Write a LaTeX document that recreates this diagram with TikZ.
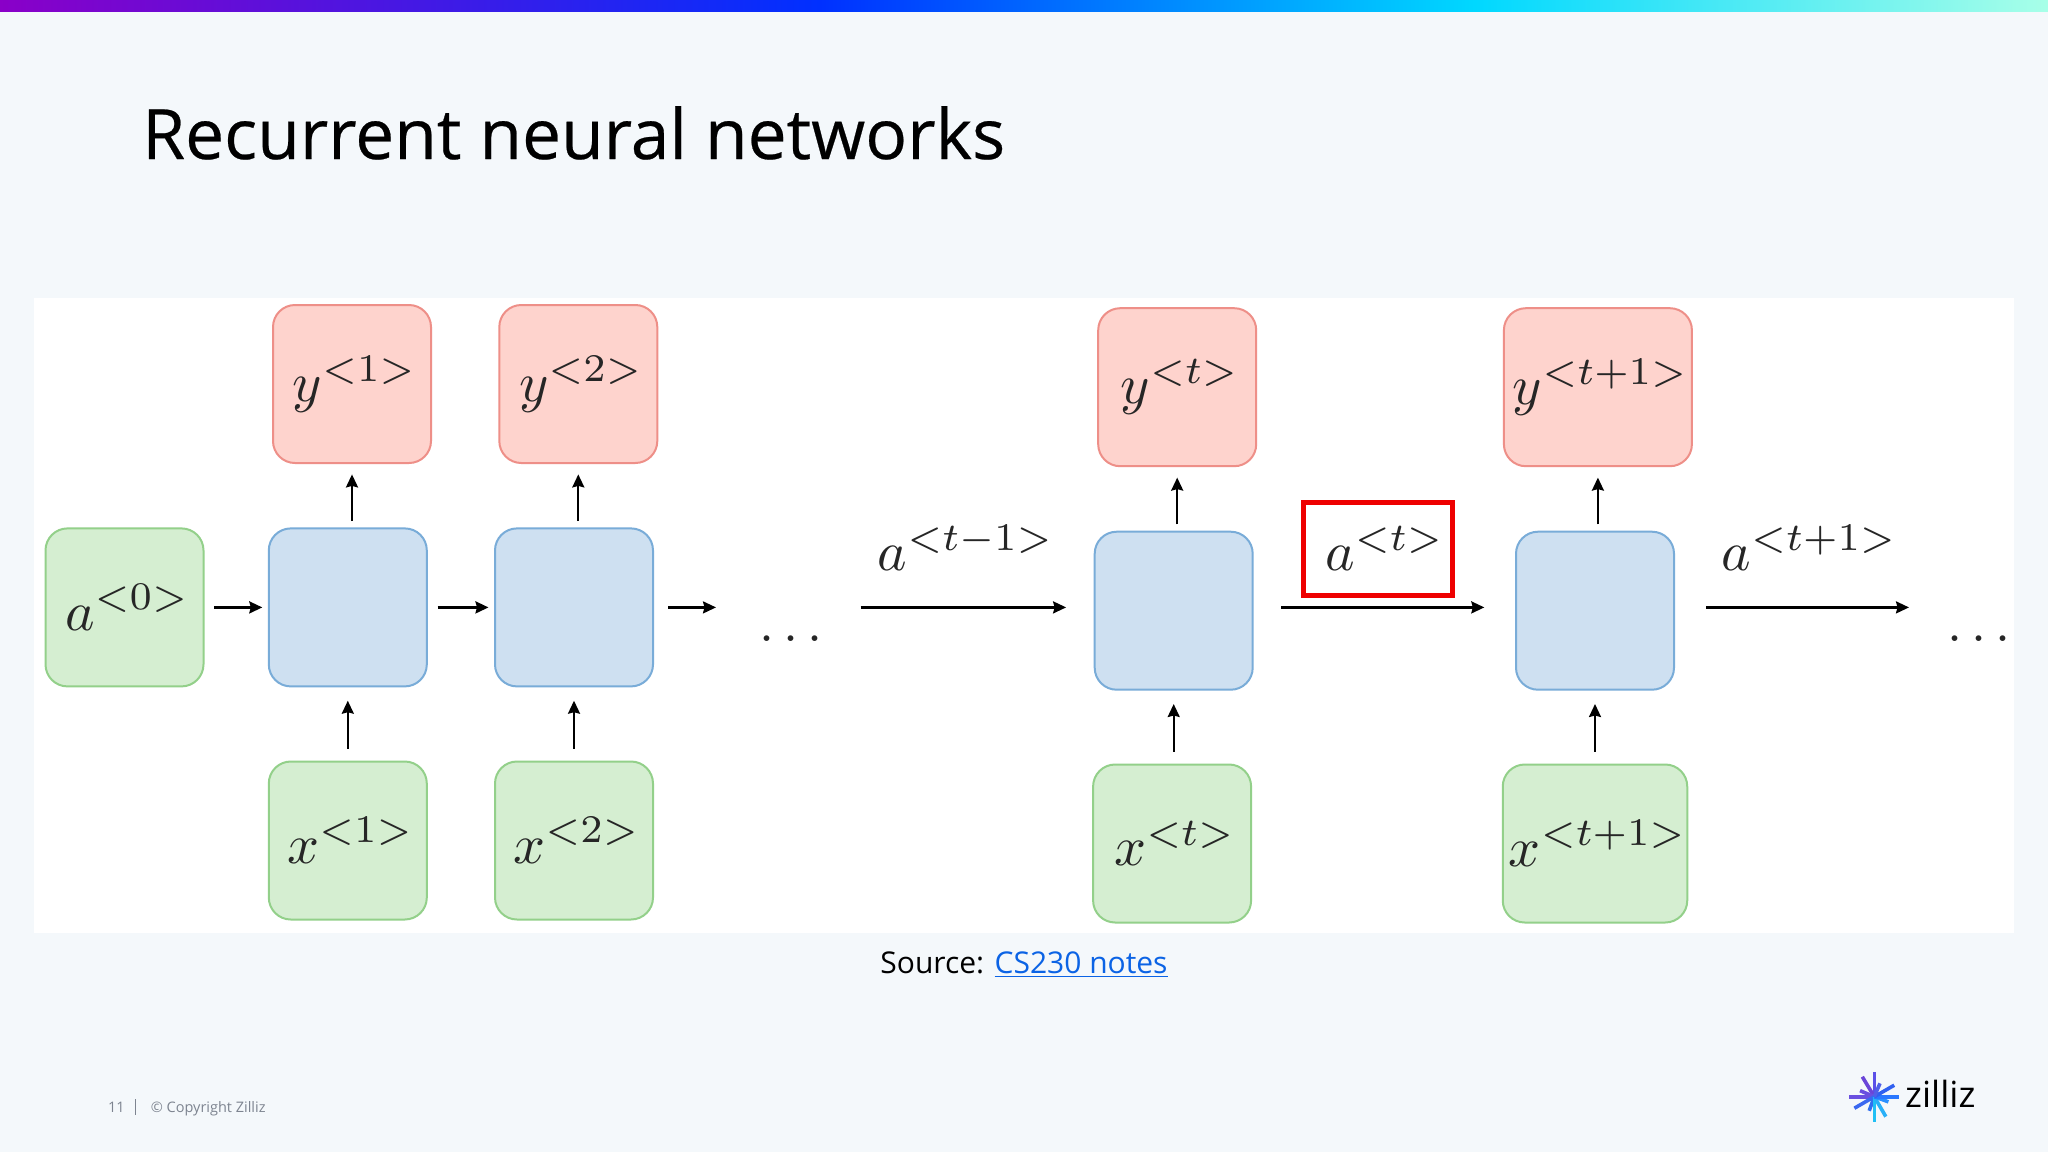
\documentclass[tikz,border=0pt]{standalone}
\usepackage[no-math]{fontspec}
\usepackage{amsmath}
\usetikzlibrary{arrows.meta}
\newfontfamily\slidefont{Open Sans}
\newfontfamily\titlefont[FakeBold=0.35]{Open Sans}
\newcommand{\biglab}[1]{\hspace*{6pt}\scalebox{5.6}{$#1$}}
\definecolor{pagebg}{HTML}{F4F8FB}
\definecolor{linkblue}{HTML}{0B63E5}
\definecolor{footgrey}{HTML}{7D8490}
\definecolor{barA}{HTML}{8A00C8}
\definecolor{barB}{HTML}{0030FF}
\definecolor{barC}{HTML}{00D8FF}
\definecolor{barD}{HTML}{A8FFE8}
\pgfdeclarehorizontalshading{topbar}{100bp}{
  color(0bp)=(barA);
  color(25bp)=(barA);
  color(45bp)=(barB);
  color(61bp)=(barC);
  color(75bp)=(barD);
  color(100bp)=(barD)}
\tikzset{>={Stealth[length=13pt,width=12pt,inset=1.5pt]}}
\tikzset{
  cell/.style={draw,rectangle,rounded corners=22pt,line width=2pt,inner sep=0pt,
    minimum width=158pt,minimum height=158pt,text=black!85},
  greenbox/.style={cell,fill={rgb,255:red,213;green,238;blue,209},draw={rgb,255:red,147;green,208;blue,138}},
  redbox/.style={cell,fill={rgb,255:red,254;green,211;blue,205},draw={rgb,255:red,238;green,143;blue,136}},
  bluebox/.style={cell,fill={rgb,255:red,206;green,224;blue,241},draw={rgb,255:red,121;green,172;blue,216}},
  freelabel/.style={inner sep=0pt,text=black!85},
  outarrow/.style={->,line width=2.2pt,shorten <=6.4pt,shorten >=10.4pt},
  inarrow/.style={->,line width=2.2pt,shorten <=12pt,shorten >=13.3pt},
  sidearrow/.style={->,line width=2.4pt,shorten <=9.7pt,shorten >=5.5pt},
  longarrow/.style={->,line width=2.2pt},
  logoray/.style={line width=3.6pt}
}

\begin{document}
\begin{tikzpicture}[x=1pt,y=-1pt]
  \useasboundingbox (0,0) rectangle (2048,1152);
  \fill[pagebg] (0,0) rectangle (2048,1152);
  \shade[shading=topbar] (0,0) rectangle (2048,11);
  \fill[white] (33.5,298) rectangle (2014,933);

  \node[anchor=base west,inner sep=0pt,font=\titlefont\fontsize{69.5}{80}\selectfont] (title) at (142,159) {Recurrent neural networks};

  % first two steps
  \node[greenbox] (a0) at (124.5,607.4) {\biglab{a^{<0>}}};
  \node[bluebox] (b1) at (347.8,607.4) {};
  \node[bluebox] (b2) at (574,607.4) {};
  \node[redbox] (y1) at (352,384) {\biglab{y^{<1>}}};
  \node[redbox] (y2) at (578.3,384) {\biglab{y^{<2>}}};
  \node[greenbox] (x1) at (347.8,840.5) {\biglab{x^{<1>}}};
  \node[greenbox] (x2) at (574,840.5) {\biglab{x^{<2>}}};

  % steps t and t+1
  \node[bluebox] (bt) at (1173.7,610.7) {};
  \node[bluebox] (bt1) at (1595,610.7) {};
  \node[redbox] (yt) at (1177.2,387.2) {\biglab{y^{<t>}}};
  \node[redbox,minimum width=188pt] (yt1) at (1597.9,387.2) {\biglab{y^{<t+1>}}};
  \node[greenbox] (xt) at (1172.1,843.5) {\biglab{x^{<t>}}};
  \node[greenbox,minimum width=184.5pt] (xt1) at (1595,843.5) {\biglab{x^{<t+1>}}};

  \node[freelabel] (dots1) at (791,639) {\scalebox{5.4}{$\ldots$}};
  \node[freelabel] (dots2) at (1979,639) {\scalebox{5.4}{$\ldots$}};
  \node[freelabel] (atm) at (963,548) {\biglab{a^{<t-1>}}};
  \node[freelabel] (atp) at (1806.6,548) {\biglab{a^{<t+1>}}};
  \node[draw={rgb,255:red,238;green,0;blue,0},line width=5pt,inner sep=0pt,minimum width=149pt,minimum height=93pt,
    text=black!85] (at) at (1377.5,548.5) {\hspace{9pt}\biglab{a^{<t>}}};

  \coordinate (b2end) at (716,607.4);
  \coordinate (tstart) at (860.6,607.4);
  \coordinate (t1end) at (1909,607.4);

  \draw[sidearrow] (a0) -- (b1);
  \draw[sidearrow] (b1) -- (b2);
  \draw[longarrow,shorten <=14pt] (b2.east) -- (b2end);
  \draw[longarrow,shorten >=27.6pt] (tstart) -- (tstart -| bt.west);
  \draw[longarrow,shorten <=27.6pt,shorten >=30.7pt] (tstart -| bt.east) -- (tstart -| bt1.west);
  \draw[longarrow,shorten <=31pt] (tstart -| bt1.east) -- (t1end);

  \draw[outarrow] (y1 |- b1.north) -- (y1.south);
  \draw[outarrow] (y2 |- b2.north) -- (y2.south);
  \draw[outarrow] (yt |- bt.north) -- (yt.south);
  \draw[outarrow] (yt1 |- bt1.north) -- (yt1.south);
  \draw[inarrow] (x1.north) -- (b1.south);
  \draw[inarrow] (x2.north) -- (b2.south);
  \draw[inarrow] (bt |- xt.north) -- (bt.south);
  \draw[inarrow] (xt1.north) -- (bt1.south);

  \node[anchor=base,inner sep=0pt,font=\slidefont\fontsize{30}{36}\selectfont] (source) at (1024,973)
    {Source: \textcolor{linkblue}{\underline{CS230 notes}}};

  % footer
  \node[anchor=base west,inner sep=0pt,text=footgrey,font=\slidefont\fontsize{14.5}{18}\selectfont] (page) at (108,1112) {11};
  \node[anchor=base west,inner sep=0pt,text=footgrey,font=\slidefont\fontsize{14.5}{18}\selectfont] (copy) at (150.7,1112) {© Copyright Zilliz};
  \draw[footgrey,line width=1pt] (135.7,1099) -- (135.7,1115);

  % logo
  \coordinate (star) at (1874.3,1096.7);
  \foreach \ang/\len/\col in {90/25/5B50E8,121/23.3/6A45D8,157/15.5/6A4FE0,180/25/6A50E0,210/23/3A68F0,250/15/3070F0,270/25/20C0F5,300/23/28B0F8,340/15/2A90FF,0/25/2A78FF,30/23/3060F0,67/14.5/5060E8}{
    \definecolor{raycol}{HTML}{\col}
    \draw[logoray,raycol] (star) -- ++(-\ang:\len);
  }
  \node[anchor=base west,inner sep=0pt,font=\slidefont\fontsize{36}{40}\selectfont] (logotext) at (1905,1107) {zilliz};
\end{tikzpicture}
\end{document}
